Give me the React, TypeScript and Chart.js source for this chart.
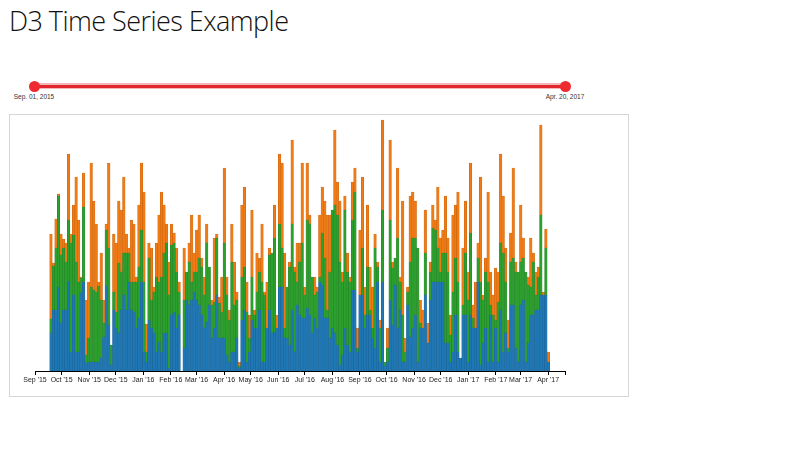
import React, { useEffect, useRef } from "react";
import { Chart, registerables } from "chart.js";

Chart.register(...registerables);

// Stacked values per bar (bottom: blue, middle: green, top: orange)
const BLUE = [
  38, 61, 61, 84, 48, 61, 61, 90, 19, 76, 19, 19, 78, 89, 8, 9, 9, 9, 9, 9, 13, 34, 85, 46, 6, 61, 43, 38, 61, 76, 61, 89,
  61, 59, 43, 53, 89, 19, 9, 51, 43, 38, 19, 29, 19, 38, 38, 3, 56, 59, 43, 56, 0, 23, 71, 66, 71, 79, 71, 66, 56, 43, 49, 66, 33, 43,
  76, 33, 33, 33, 16, 9, 19, 19, 33, 3, 51, 61, 9, 19, 51, 43, 43, 61, 9, 9, 43, 61, 38, 39, 43, 84, 84, 33, 33, 26, 61, 19, 66, 56,
  53, 53, 63, 56, 38, 53, 43, 89, 86, 53, 53, 33, 43, 38, 26, 6, 16, 43, 26, 19, 81, 81, 19, 76, 76, 43, 56, 56, 33, 23, 89, 9, 89, 5,
  9, 71, 46, 86, 43, 61, 9, 9, 66, 34, 43, 56, 9, 43, 43, 76, 28, 71, 89, 89, 89, 89, 89, 28, 28, 9, 19, 56, 19, 13, 56, 56, 9, 56,
  43, 43, 89, 6, 28, 43, 9, 56, 9, 43, 9, 61, 19, 38, 19, 66, 66, 23, 9, 66, 71, 9, 28, 56, 56, 61, 61, 76, 76, 76, 9,
];
const GREEN = [
  14, 44, 62, 91, 68, 62, 48, 61, 109, 60, 90, 70, 15, 75, 8, 24, 75, 72, 70, 76, 58, 14, 56, 77, 20, 18, 16, 70, 38, 42, 57, 29,
  28, 30, 46, 51, 52, 70, 10, 62, 28, 41, 75, 60, 75, 80, 90, 73, 70, 69, 56, 23, 0, 48, 28, 43, 18, 20, 28, 47, 48, 33, 79, 38, 33, 26,
  57, 35, 26, 95, 60, 42, 90, 47, 38, 2, 43, 43, 50, 14, 43, 13, 36, 38, 80, 67, 0, 55, 80, 94, 0, 63, 39, 10, 51, 78, 86, 80, 23, 53,
  75, 23, 88, 91, 56, 23, 36, 5, 52, 60, 8, 66, 118, 128, 130, 103, 73, 118, 73, 70, 70, 98, 4, 0, 47, 13, 48, 5, 10, 100, 15, 34, 72, 4,
  14, 80, 57, 27, 90, 28, 47, 10, 13, 75, 90, 77, 114, 5, 0, 42, 0, 28, 54, 52, 34, 10, 29, 90, 71, 27, 60, 57, 70, 0, 10, 62, 62, 82,
  10, 0, 24, 83, 43, 56, 80, 10, 47, 8, 60, 67, 99, 51, 4, 43, 47, 76, 90, 43, 42, 90, 58, 28, 53, 15, 33, 80, 0, 47, 0,
];
const ORANGE = [
  85, 3, 29, 2, 21, 9, 19, 66, 9, 30, 85, 62, 1, 34, 55, 56, 124, 89, 68, 4, 47, 23, 6, 85, 0, 58, 69, 62, 62, 76, 19, 5,
  62, 58, 5, 62, 67, 90, 28, 15, 52, 5, 34, 67, 85, 48, 19, 33, 21, 10, 24, 10, 0, 52, 0, 19, 67, 19, 42, 43, 9, 18, 19, 0, 5, 64,
  4, 6, 35, 75, 18, 10, 38, 43, 8, 4, 72, 80, 30, 23, 67, 5, 39, 14, 58, 3, 46, 7, 0, 33, 13, 70, 85, 75, 0, 5, 84, 5, 39, 19,
  80, 8, 57, 9, 0, 18, 5, 62, 46, 57, 95, 57, 0, 75, 33, 61, 10, 14, 19, 5, 38, 24, 20, 65, 71, 28, 62, 43, 41, 14, 5, 8, 90, 0,
  20, 80, 6, 0, 70, 5, 114, 14, 5, 66, 46, 37, 0, 23, 18, 43, 20, 10, 23, 10, 61, 34, 23, 57, 34, 20, 77, 53, 90, 0, 57, 52, 28, 70,
  13, 46, 15, 105, 5, 14, 90, 33, 20, 52, 30, 89, 57, 34, 28, 29, 90, 10, 0, 57, 20, 0, 8, 49, 9, 23, 10, 90, 3, 19, 10,
];

// Days counted from Sep 01, 2015
const FIRST_BAR_DAY = 18;
const LAST_BAR_DAY = 578.3;
const RANGE_START_DAY = 0;
const RANGE_END_DAY = 597;

const MONTH_LABELS = [
  "Sep '15", "Oct '15", "Nov '15", "Dec '15", "Jan '16", "Feb '16", "Mar '16", "Apr '16", "May '16", "Jun '16",
  "Jul '16", "Aug '16", "Sep '16", "Oct '16", "Nov '16", "Dec '16", "Jan '17", "Feb '17", "Mar '17", "Apr '17",
];
const MONTH_DAYS = [0, 30, 61, 91, 122, 153, 182, 213, 243, 274, 304, 335, 366, 396, 427, 457, 488, 519, 547, 578];

const RANGE_LABELS = ["Sep. 01, 2015", "Apr. 20, 2017"];
const TITLE = "D3 Time Series Example";

const FILL = { blue: "#1f77b4", green: "#2ca02c", orange: "#f07a14" };
const EDGE = { blue: "#1a6296", green: "#257f27", orange: "#c8640f" };

function BarChart() {
  const ref = useRef<HTMLCanvasElement | null>(null);
  useEffect(() => {
    if (!ref.current) return;
    const n = BLUE.length;
    const step = (LAST_BAR_DAY - FIRST_BAR_DAY) / (n - 1);
    const days = BLUE.map((_, i) => FIRST_BAR_DAY + i * step);
    const mk = (arr: number[]) => arr.map((v, i) => ({ x: days[i], y: v }));
    const ds = (label: string, arr: number[], key: "blue" | "green" | "orange") => ({
      label,
      data: mk(arr),
      backgroundColor: FILL[key],
      borderColor: EDGE[key],
      borderWidth: 0.5,
      borderSkipped: false,
    });
    const chart = new Chart(ref.current, {
      type: "bar",
      data: {
        datasets: [ds("a", BLUE, "blue"), ds("b", GREEN, "green"), ds("c", ORANGE, "orange")],
      },
      options: {
        animation: false,
        responsive: true,
        maintainAspectRatio: false,
        layout: { padding: { left: 25, right: 63, top: 0, bottom: 0 } },
        datasets: { bar: { barPercentage: 1, categoryPercentage: 1 } },
        plugins: { legend: { display: false }, tooltip: { enabled: false } },
        scales: {
          x: {
            type: "linear",
            stacked: true,
            offset: false,
            min: RANGE_START_DAY,
            max: RANGE_END_DAY,
            grid: { display: true, drawOnChartArea: false, drawTicks: true, tickLength: 4, color: "#000", offset: false },
            border: { display: true, color: "#000", width: 1 },
            afterBuildTicks: (scale: any) => {
              scale.ticks = [...MONTH_DAYS.map((d) => ({ value: d })), { value: RANGE_END_DAY }];
            },
            afterFit: (scale: any) => {
              scale.height = 25;
            },
            ticks: {
              autoSkip: false,
              maxRotation: 0,
              padding: 1,
              color: "#222",
              font: { family: "'Liberation Sans', Arial, sans-serif", size: 7 },
              callback: (v: any) => {
                const i = MONTH_DAYS.indexOf(Number(v));
                return i >= 0 ? MONTH_LABELS[i] : "";
              },
            },
          },
          y: { stacked: true, display: false, min: 0, max: 256 },
        },
      },
    } as any);
    return () => chart.destroy();
  }, []);
  return (
    <div style={{ position: "absolute", left: 0, top: 0, width: 618, height: 281 }}>
      <canvas ref={ref} />
    </div>
  );
}

export default function App() {
  const sliderLeft = 34;
  const sliderRight = 565;
  const labelStyle: React.CSSProperties = {
    position: "absolute",
    width: 80,
    top: 93,
    textAlign: "center",
    fontSize: 6.5,
    color: "#333",
    fontFamily: "'Liberation Sans', Arial, sans-serif",
  };
  return (
    <div style={{ position: "absolute", left: 0, top: 0, width: 800, height: 450, background: "#fff", fontFamily: "'Open Sans', sans-serif" }}>
      <div style={{ position: "absolute", left: 9, top: 1, fontSize: 27, fontWeight: 300, letterSpacing: -0.55, color: "#111", lineHeight: "40px", whiteSpace: "nowrap" }}>
        {TITLE}
      </div>
      {/* range slider */}
      <div style={{ position: "absolute", left: sliderLeft, top: 83, width: sliderRight - sliderLeft, height: 6, background: "rgba(236,90,90,0.45)", borderRadius: 3 }} />
      <div style={{ position: "absolute", left: sliderLeft, top: 85, width: sliderRight - sliderLeft, height: 2.5, background: "#e0262c" }} />
      <div style={{ position: "absolute", left: sliderLeft - 5.5, top: 80.5, width: 11, height: 11, borderRadius: "50%", background: "#ee2b31" }} />
      <div style={{ position: "absolute", left: sliderRight - 5.5, top: 80.5, width: 11, height: 11, borderRadius: "50%", background: "#ee2b31" }} />
      <div style={{ ...labelStyle, left: sliderLeft - 40 }}>{RANGE_LABELS[0]}</div>
      <div style={{ ...labelStyle, left: sliderRight - 40 }}>{RANGE_LABELS[1]}</div>
      {/* chart frame */}
      <div style={{ position: "absolute", left: 9, top: 114, width: 618, height: 281, border: "1px solid #d6d6d6" }}>
        <BarChart />
      </div>
    </div>
  );
}
